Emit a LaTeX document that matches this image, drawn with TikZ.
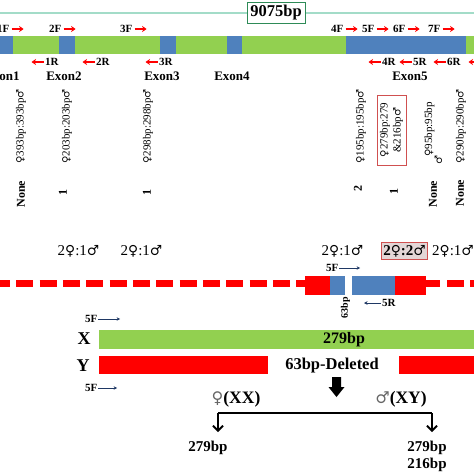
\documentclass[tikz,border=0pt]{standalone}
\usepackage{fontspec}
\setmainfont{Liberation Serif}
\newfontfamily\symfont[Scale=0.92]{DejaVu Serif}
\usetikzlibrary{arrows.meta,calc}
\definecolor{gbar}{HTML}{92D050}
\definecolor{bexon}{HTML}{4F81BD}
\definecolor{rred}{HTML}{FF0000}
\definecolor{teal1}{HTML}{A3DCC8}
\definecolor{boxg}{HTML}{2E8B57}
\definecolor{navy}{HTML}{1F3864}
\definecolor{boxred}{HTML}{D05050}
\definecolor{boxfill}{HTML}{E3D6D6}
\newcommand\fsz[2][]{\fontsize{#2}{#2}\selectfont}
\newcommand\Fem{{\symfont\mdseries ♀}}
\newcommand\Mal{{\symfont\mdseries ♂}}
\begin{document}
\begin{tikzpicture}[x=1pt,y=-1pt,
  primer/.style={font=\bfseries\fsz{11}, inner sep=0pt, anchor=west},
  parrow/.style={draw=rred, line width=1.4pt, -{Stealth[length=4.5pt,width=6pt]}},
  narrow/.style={draw=navy, line width=0.8pt, -{Stealth[length=3.5pt,width=3.5pt]}},
  nprimer/.style={font=\bfseries\fsz{11}, inner sep=0pt, anchor=west},
  exonlab/.style={font=\bfseries\fsz{13}, inner sep=0pt},
  rot/.style={rotate=90, anchor=west, font=\fsz{11}, inner sep=0pt},
  cnt/.style={rotate=90, font=\bfseries\fsz{12}, inner sep=0pt},
  ratio/.style={font=\fsz{15}, inner sep=0pt},
  bigb/.style={font=\bfseries\fsz{16}, inner sep=0pt},
  resl/.style={font=\bfseries\fsz{15}, inner sep=0pt},
  sexlab/.style={font=\fsz{17.5}, inner sep=0pt},
]
\useasboundingbox (0,0) rectangle (474,474);
\clip (0,0) rectangle (474,474);

% top line and length box
\draw[teal1, line width=1.5pt] (0,13) -- (474,13);
\node[draw=boxg, line width=1pt, fill=white, font=\bfseries\fsz{16.5}, minimum width=58pt, minimum height=21pt, inner sep=0pt] (total) at (276,12.5) {9075bp};

% gene bar
\fill[gbar] (0,36) rectangle (474,54);
\fill[bexon] (0,36) rectangle (13,54);
\fill[bexon] (59,36) rectangle (75,54);
\fill[bexon] (160,36) rectangle (176,54);
\fill[bexon] (227,36) rectangle (242,54);
\fill[bexon] (346,36) rectangle (466,54);

% primers
\newcommand\fwd[3]{\node[primer] (#1) at (#2,29) {#3}; \draw[parrow] ($(#1.east)+(2,0)$) -- ++(12,0);}
\newcommand\rev[3]{\node[primer] (#1) at (#2,62) {#3}; \draw[parrow] ($(#1.west)+(-1.5,0)$) -- ++(-12,0);}
\fwd{f1}{-3}{1F}
\fwd{f2}{49}{2F}
\fwd{f3}{120}{3F}
\fwd{f4}{331}{4F}
\fwd{f5}{362}{5F}
\fwd{f6}{393}{6F}
\fwd{f7}{428}{7F}
\rev{r1}{45}{1R}
\rev{r2}{96}{2R}
\rev{r3}{159}{3R}
\rev{r4}{382}{4R}
\rev{r5}{413}{5R}
\rev{r6}{447}{6R}
\rev{r7}{482}{7R}

% exon labels
\node[exonlab] (e1) at (2,76) {Exon1};
\node[exonlab] (e2) at (64,76) {Exon2};
\node[exonlab] (e3) at (162,76) {Exon3};
\node[exonlab] (e4) at (232,76) {Exon4};
\node[exonlab] (e5) at (410,76) {Exon5};

% rotated product sizes
\node[rot] (t1) at (21,164) {\Fem393bp:393bp\Mal};
\node[rot] (t2) at (67,164) {\Fem203bp:203bp\Mal};
\node[rot] (t3) at (148,164) {\Fem298bp:298bp\Mal};
\node[rot] (t4) at (361,164) {\Fem195bp:195bp\Mal};
\node[rotate=90, draw=boxred, line width=0.8pt, align=center, font=\fontsize{11}{13}\selectfont, inner sep=0pt, minimum width=70pt, minimum height=29pt] (t5) at (391.5,130) {\Fem279bp:279\\\&216bp\Mal};
\node[rot] (t6) at (429.5,157) {\Fem95bp:95bp};
\node[rot] (t6b) at (438.5,165) {\Mal};
\node[rot] (t7) at (461,164) {\Fem290bp:290bp\Mal};

% counts
\node[cnt] (c1) at (21,194) {None};
\node[cnt] (c2) at (63,192) {1};
\node[cnt] (c3) at (147,192) {1};
\node[cnt] (c4) at (358,188) {2};
\node[cnt] (c5) at (394,191) {1};
\node[cnt] (c6) at (433,194) {None};
\node[cnt] (c7) at (460,193) {None};

% ratios
\node[ratio] (q1) at (78.5,251) {2\Fem:1\Mal};
\node[ratio] (q2) at (141.5,251) {2\Fem:1\Mal};
\node[ratio] (q3) at (342.5,251) {2\Fem:1\Mal};
\node[ratio, draw=boxred, fill=boxfill, line width=0.8pt, font=\bfseries\fsz{15}, inner xsep=1.5pt, inner ysep=2.5pt] (q4) at (404.5,251) {2\Fem:2\Mal};
\node[ratio] (q5) at (453,251) {2\Fem:1\Mal};

% dashed chromosome line and exon5 detail
\draw[rred, line width=7pt, dash pattern=on 17pt off 6.33pt, dash phase=7pt] (0,283.5) -- (305,283.5);
\draw[rred, line width=7pt, dash pattern=on 14pt off 7pt on 17pt off 6pt on 20pt off 4pt] (426,283.5) -- (474,283.5);
\fill[rred] (305,276) rectangle (330,295);
\fill[bexon] (330,276) rectangle (345,295);
\fill[bexon] (352,276) rectangle (395,295);
\fill[rred] (395,276) rectangle (426,295);
\node[nprimer] (d5f) at (326,268) {5F};
\draw[narrow] ($(d5f.east)+(0.5,0)$) -- ++(21,0);
\node[rotate=90, font=\bfseries\fsz{10}, inner sep=0pt] (del) at (345.5,307.5) {63bp};
\node[nprimer] (d5r) at (382,303) {5R};
\draw[narrow] ($(d5r.west)+(-1,0)$) -- ++(-17,0);

% X / Y bars
\node[font=\bfseries\fsz{18}, inner sep=0pt] (X) at (84,339) {X};
\node[font=\bfseries\fsz{18}, inner sep=0pt] (Y) at (83,366) {Y};
\fill[gbar] (99,330) rectangle (474,349);
\node[bigb] (xlen) at (344,340) {279bp};
\fill[rred] (99,356) rectangle (268,374);
\fill[rred] (399,356) rectangle (474,374);
\node[nprimer] (x5f) at (85,319) {5F};
\draw[narrow] ($(x5f.east)+(0.5,0)$) -- ++(22,0);
\node[nprimer] (y5f) at (85,388) {5F};
\draw[narrow] ($(y5f.east)+(0.5,0)$) -- ++(19,0);
\node[font=\bfseries\fsz{16.5}, inner sep=0pt] (dl) at (332,366) {63bp-Deleted};

% thick arrow
\fill[black] (332,377) -- (341,377) -- (341,387) -- (344.5,387) -- (336.5,397) -- (328.5,387) -- (332,387) -- cycle;

% sexes
\node[sexlab] (ff) at (236,399) {{\color{black!60}\Fem}\textbf{(XX)}};
\node[sexlab] (mm) at (401,399) {{\color{black!60}\Mal}\textbf{(XY)}};
\coordinate (jl) at (218,413);
\coordinate (jr) at (432,413);
\coordinate (el) at (218,432);
\coordinate (er) at (432,432);
\draw[line width=1.8pt] (jl) -- (jr);
\draw[line width=1.8pt, -{Straight Barb[length=5pt,width=10pt]}] (jl) -- (el);
\draw[line width=1.8pt, -{Straight Barb[length=5pt,width=10pt]}] (jr) -- (er);
\node[resl] (res1) at (208,448) {279bp};
\node[resl] (res2) at (427,448) {279bp};
\node[resl] (res3) at (427,465) {216bp};
\end{tikzpicture}
\end{document}
